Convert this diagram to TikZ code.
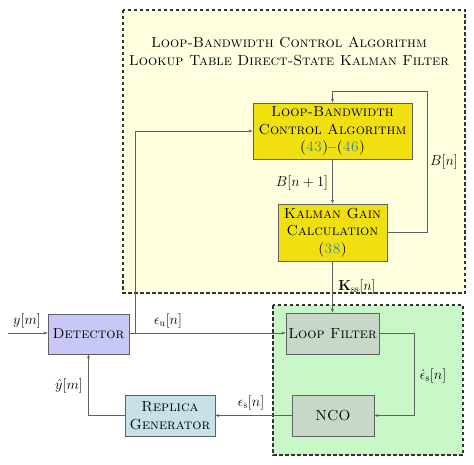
\documentclass[tikz,border=0pt]{standalone}
\usepackage{amsmath}
\usetikzlibrary{arrows.meta,calc}
\definecolor{ybg}{HTML}{FFFFE0}
\definecolor{gbg}{HTML}{C8F8C8}
\definecolor{ybox}{HTML}{F0E010}
\definecolor{detc}{HTML}{C8C8F8}
\definecolor{repc}{HTML}{C8E0E8}
\definecolor{lfc}{HTML}{C8D8C8}
\definecolor{linec}{HTML}{606060}
\definecolor{refc}{HTML}{3A8A9A}
\newcommand{\rf}[1]{\textcolor{refc}{#1}}
\tikzset{
  x=1pt, y=1pt,
  blk/.style={draw=linec, line width=0.8pt, align=center, inner sep=0pt,
    font=\fontsize{14.5}{17.5}\selectfont\scshape},
  conn/.style={draw=linec, line width=0.7pt, -{Stealth[length=4pt,width=3pt]}},
  plain/.style={draw=linec, line width=0.7pt},
  region/.style={draw=black!80, dashed, line width=1.1pt, dash pattern=on 3.5pt off 2.5pt},
  lbl/.style={font=\fontsize{14}{16}\selectfont, inner sep=0pt}
}
\begin{document}
\begin{tikzpicture}
\useasboundingbox (0,0) rectangle (474,-465);
% regions
\draw[region, fill=ybg] (123,-10) rectangle (465,-293);
\draw[region, fill=gbg] (273,-305) rectangle (463,-455);
% title
\node[font=\fontsize{14.5}{18}\selectfont\scshape, align=center] (title) at (289,-51)
  {Loop-Bandwidth Control Algorithm\\Lookup Table Direct-State Kalman Filter};
% blocks
\node[blk, fill=ybox, minimum width=159, minimum height=56] (lbca) at (332.5,-131)
  {Loop-Bandwidth\\Control Algorithm\\(\rf{43})--(\rf{46})};
\node[blk, fill=ybox, minimum width=109, minimum height=57] (kal) at (332.5,-232.5)
  {Kalman Gain\\Calculation\\(\rf{38})};
\node[blk, fill=detc, minimum width=81, minimum height=40] (det) at (88.5,-334) {Detector};
\node[blk, fill=repc, minimum width=90, minimum height=41] (rep) at (170,-415.5) {Replica\\Generator};
\node[blk, fill=lfc, minimum width=93, minimum height=41] (lf) at (332.5,-333.5) {Loop Filter};
\node[blk, fill=lfc, minimum width=82, minimum height=41] (nco) at (333,-415.5) {NCO};
% coordinates
\coordinate (yin) at (8,-333);
\coordinate (br) at (135,-333);
\coordinate (fbA) at (427,-232);
\coordinate (fbB) at (427,-91);
\coordinate (fbC) at (332.5,-91);
\coordinate (lfR) at (414,-333);
% connectors
\draw[conn] (yin) -- (yin -| det.west);
\draw[conn] (det.east |- br) -- (lf.west |- br);
\draw[conn] (br) -- (br |- lbca.west) -- (lbca.west);
\draw[conn] (lbca.south) -- (kal.north);
\draw[conn] (kal.east |- fbA) -- (fbA) -- (fbB) -- (fbC) -- (lbca.north);
\draw[conn] (kal.south) -- (lf.north);
\draw[conn] (lf.east |- lfR) -- (lfR) |- (nco.east);
\draw[conn] (nco.west) -- (rep.east);
\draw[conn] (rep.west) -| (det.south);
% labels
\node[lbl] (l1) at (27,-321) {$y[m]$};
\node[lbl] (l2) at (168,-321) {$\epsilon_{\mathrm{u}}[n]$};
\node[lbl] (l3) at (69,-386) {$\hat{y}[m]$};
\node[lbl] (l4) at (251,-403) {$\epsilon_{\mathrm{s}}[n]$};
\node[lbl] (l5) at (433,-376) {$\dot{\epsilon}_{\mathrm{s}}[n]$};
\node[lbl] (l6) at (302,-183) {$B[n+1]$};
\node[lbl] (l7) at (444,-162) {$B[n]$};
\node[lbl] (l8) at (357,-287) {$\mathbf{K}_{\mathrm{ss}}[n]$};
\end{tikzpicture}
\end{document}
